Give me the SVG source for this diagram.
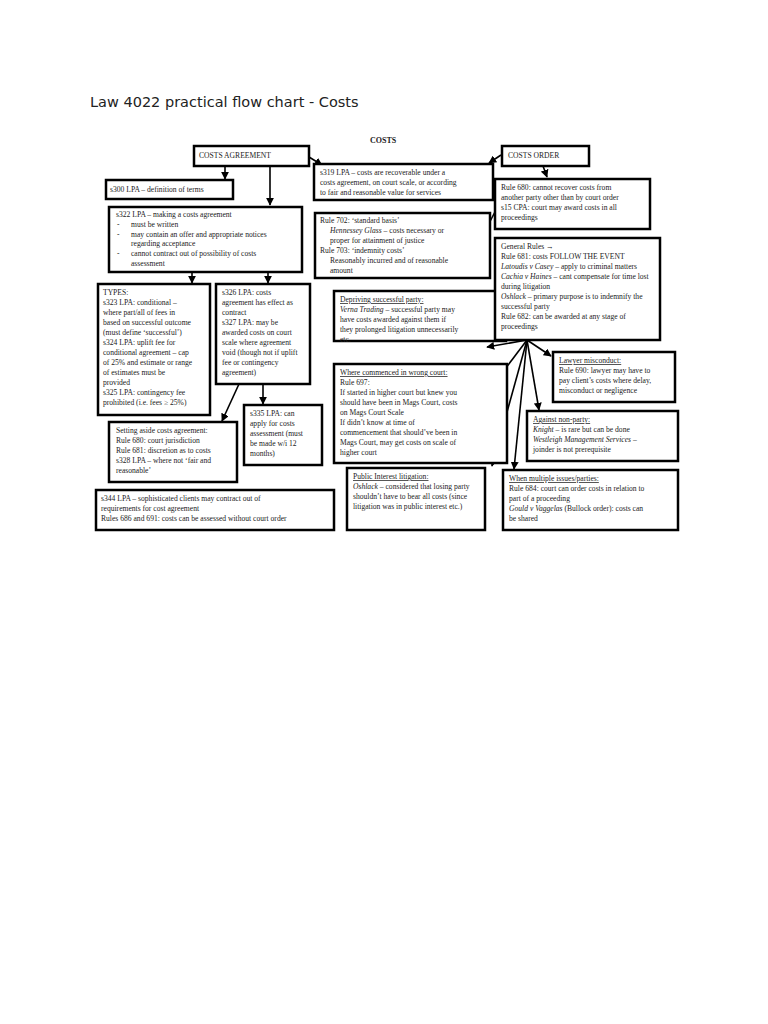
<svg xmlns="http://www.w3.org/2000/svg" width="768" height="1024" viewBox="0 0 768 1024">
<style>
rect.b{fill:#fff;stroke:#000;stroke-width:2.5}
text{font-family:"Liberation Serif",serif;font-size:7.6px;fill:#222}
.u{text-decoration:underline}
.i{font-style:italic}
.c line,.c path{stroke:#000;stroke-width:1.6;fill:none;marker-end:url(#a)}
</style>
<defs><marker id="a" viewBox="0 0 10 10" refX="9" refY="5" markerWidth="5" markerHeight="5" orient="auto"><path d="M0,0L10,5L0,10z" fill="#000"/></marker></defs>
<rect width="768" height="1024" fill="#fff"/>
<text x="90" y="107" style="font-family:'DejaVu Sans',sans-serif;font-size:14.5px;fill:#222">Law 4022 practical flow chart - Costs</text>
<text x="370" y="143" style="font-weight:bold;font-size:8px">COSTS</text>
<g class="c">
<line x1="225" y1="166" x2="225" y2="179"/>
<line x1="270" y1="166" x2="270" y2="205"/>
<line x1="309" y1="157" x2="322" y2="165"/>
<line x1="501" y1="155" x2="489" y2="163"/>
<line x1="543" y1="166" x2="547" y2="177"/>
<line x1="497" y1="208" x2="484" y2="233"/>
<line x1="192" y1="272" x2="192" y2="283"/>
<line x1="268" y1="272" x2="268" y2="283"/>
<line x1="263" y1="384" x2="263" y2="404"/>
<line x1="239" y1="384" x2="222" y2="421"/>
<line x1="527" y1="340" x2="487" y2="347"/>
<line x1="527" y1="340" x2="493" y2="385"/>
<line x1="527" y1="340" x2="492" y2="466"/>
<line x1="527" y1="340" x2="514" y2="469"/>
<line x1="527" y1="340" x2="539" y2="410"/>
<line x1="527" y1="340" x2="551" y2="356"/>
</g>
<g id="costs-agreement"><rect class="b" x="194" y="146" width="115" height="20"/><text x="199" y="158">COSTS AGREEMENT</text></g>
<g id="s300"><rect class="b" x="106" y="180" width="127" height="19"/><text x="110" y="192">s300 LPA – definition of terms</text></g>
<g id="s322"><rect class="b" x="109" y="207" width="193" height="65"/>
<text x="116" y="217">s322 LPA – making a costs agreement</text>
<text x="117" y="227">-</text><text x="131" y="227">must be written</text>
<text x="117" y="237">-</text><text x="131" y="237">may contain an offer and appropriate notices</text>
<text x="131" y="246">regarding acceptance</text>
<text x="117" y="256">-</text><text x="131" y="256">cannot contract out of possibility of costs</text>
<text x="131" y="266">assessment</text></g>
<g id="types"><rect class="b" x="98" y="284" width="112" height="131"/>
<text x="103" y="295">TYPES:</text>
<text x="103" y="305">s323 LPA: conditional –</text>
<text x="103" y="315">where part/all of fees in</text>
<text x="103" y="325">based on successful outcome</text>
<text x="103" y="335">(must define ‘successful’)</text>
<text x="103" y="345">s324 LPA: uplift fee for</text>
<text x="103" y="355">conditional agreement – cap</text>
<text x="103" y="365">of 25% and estimate or range</text>
<text x="103" y="375">of estimates must be</text>
<text x="103" y="385">provided</text>
<text x="103" y="395">s325 LPA: contingency fee</text>
<text x="103" y="405">prohibited (i.e. fees ≥ 25%)</text></g>
<g id="s326"><rect class="b" x="216" y="284" width="94" height="100"/>
<text x="222" y="295">s326 LPA: costs</text>
<text x="222" y="305">agreement has effect as</text>
<text x="222" y="315">contract</text>
<text x="222" y="325">s327 LPA: may be</text>
<text x="222" y="335">awarded costs on court</text>
<text x="222" y="345">scale where agreement</text>
<text x="222" y="355">void (though not if uplift</text>
<text x="222" y="365">fee or contingency</text>
<text x="222" y="375">agreement)</text></g>
<g id="s335"><rect class="b" x="244" y="405" width="78" height="60"/>
<text x="250" y="416">s335 LPA: can</text>
<text x="250" y="426">apply for costs</text>
<text x="250" y="436">assessment (must</text>
<text x="250" y="446">be made w/i 12</text>
<text x="250" y="456">months)</text></g>
<g id="setting-aside"><rect class="b" x="109" y="422" width="128" height="60"/>
<text x="116" y="433">Setting aside costs agreement:</text>
<text x="116" y="443">Rule 680: court jurisdiction</text>
<text x="116" y="453">Rule 681: discretion as to costs</text>
<text x="116" y="463">s328 LPA – where not ‘fair and</text>
<text x="116" y="473">reasonable’</text></g>
<g id="s344"><rect class="b" x="96" y="490" width="238" height="40"/>
<text x="101" y="501">s344 LPA – sophisticated clients may contract out of</text>
<text x="101" y="511">requirements for cost agreement</text>
<text x="101" y="521">Rules 686 and 691: costs can be assessed without court order</text></g>
<g id="s319"><rect class="b" x="314" y="164" width="179" height="36"/>
<text x="320" y="175">s319 LPA – costs are recoverable under a</text>
<text x="320" y="185">costs agreement, on court scale, or according</text>
<text x="320" y="195">to fair and reasonable value for services</text></g>
<g id="rule702"><rect class="b" x="315" y="213" width="175" height="65"/>
<text x="320" y="223">Rule 702: ‘standard basis’</text>
<text x="330" y="233"><tspan class="i">Hennessey Glass</tspan> – costs necessary or</text>
<text x="330" y="243">proper for attainment of justice</text>
<text x="320" y="253">Rule 703: ‘indemnity costs’</text>
<text x="330" y="263">Reasonably incurred and of reasonable</text>
<text x="330" y="273">amount</text></g>
<g id="depriving"><rect class="b" x="334" y="291" width="172" height="50"/>
<text x="340" y="302" class="u">Depriving successful party:</text>
<text x="340" y="312"><tspan class="i">Verna Trading</tspan> – successful party may</text>
<text x="340" y="322">have costs awarded against them if</text>
<text x="340" y="332">they prolonged litigation unnecessarily</text>
<text x="340" y="342">etc.</text></g>
<g id="wrong-court"><rect class="b" x="334" y="364" width="173" height="99"/>
<text x="340" y="375" class="u">Where commenced in wrong court:</text>
<text x="340" y="385">Rule 697:</text>
<text x="340" y="395">If started in higher court but knew you</text>
<text x="340" y="405">should have been in Mags Court, costs</text>
<text x="340" y="415">on Mags Court Scale</text>
<text x="340" y="425">If didn’t know at time of</text>
<text x="340" y="435">commencement that should’ve been in</text>
<text x="340" y="445">Mags Court, may get costs on scale of</text>
<text x="340" y="455">higher court</text></g>
<g id="public-interest"><rect class="b" x="347" y="468" width="138" height="62"/>
<text x="353" y="479" class="u">Public Interest litigation:</text>
<text x="353" y="489"><tspan class="i">Oshlack</tspan> – considered that losing party</text>
<text x="353" y="499">shouldn’t have to bear all costs (since</text>
<text x="353" y="509">litigation was in public interest etc.)</text></g>
<g id="costs-order"><rect class="b" x="502" y="146" width="87" height="20"/><text x="508" y="158">COSTS ORDER</text></g>
<g id="rule680"><rect class="b" x="495" y="179" width="155" height="50"/>
<text x="501" y="190">Rule 680: cannot recover costs from</text>
<text x="501" y="200">another party other than by court order</text>
<text x="501" y="210">s15 CPA: court may award costs in all</text>
<text x="501" y="220">proceedings</text></g>
<g id="general-rules"><rect class="b" x="495" y="238" width="165" height="102"/>
<text x="501" y="249">General Rules →</text>
<text x="501" y="259">Rule 681: costs FOLLOW THE EVENT</text>
<text x="501" y="269"><tspan class="i">Latoudis v Casey</tspan> – apply to criminal matters</text>
<text x="501" y="279"><tspan class="i">Cachia v Haines</tspan> – cant compensate for time lost</text>
<text x="501" y="289">during litigation</text>
<text x="501" y="299"><tspan class="i">Oshlack</tspan> – primary purpose is to indemnify the</text>
<text x="501" y="309">successful party</text>
<text x="501" y="319">Rule 682: can be awarded at any stage of</text>
<text x="501" y="329">proceedings</text></g>
<g id="lawyer"><rect class="b" x="553" y="352" width="122" height="50"/>
<text x="559" y="363" class="u">Lawyer misconduct:</text>
<text x="559" y="373">Rule 690: lawyer may have to</text>
<text x="559" y="383">pay client’s costs where delay,</text>
<text x="559" y="393">misconduct or negligence</text></g>
<g id="non-party"><rect class="b" x="527" y="411" width="151" height="50"/>
<text x="533" y="422" class="u">Against non-party:</text>
<text x="533" y="432"><tspan class="i">Knight</tspan> – is rare but can be done</text>
<text x="533" y="442" class="i">Westleigh Management Services <tspan style="font-style:normal">–</tspan></text>
<text x="533" y="452">joinder is not prerequisite</text></g>
<g id="multiple"><rect class="b" x="503" y="470" width="175" height="60"/>
<text x="509" y="481" class="u">When multiple issues/parties:</text>
<text x="509" y="491">Rule 684: court can order costs in relation to</text>
<text x="509" y="501">part of a proceeding</text>
<text x="509" y="511"><tspan class="i">Gould v Vaggelas</tspan> (Bullock order): costs can</text>
<text x="509" y="521">be shared</text></g>
</svg>
